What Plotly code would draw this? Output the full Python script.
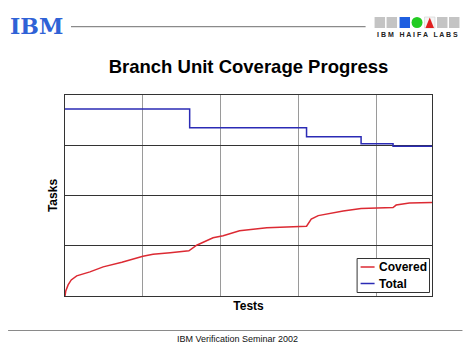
import plotly.graph_objects as go

# ---- data ----
tests_covered = [0, 1, 4, 8, 15, 32, 49, 73, 100, 113, 135, 159, 169, 190, 203, 224, 259, 310, 316, 325, 357, 380, 421, 425, 442, 471]
covered = [0.0, 0.10, 0.22, 0.32, 0.40, 0.48, 0.58, 0.67, 0.79, 0.83, 0.86, 0.90, 1.01, 1.16, 1.20, 1.30, 1.36, 1.39, 1.53, 1.60, 1.69, 1.74, 1.76, 1.81, 1.85, 1.86]

tests_total = [0, 160, 310, 380, 421, 471]
total = [3.72, 3.35, 3.17, 3.03, 2.98, 2.98]

series_names = ["Covered", "Total"]
series_colors = ["#dc2a33", "#2b2bb5"]
title_text = "Branch Unit Coverage Progress"
x_title = "Tests"
y_title = "Tasks"
footer_text = "IBM Verification Seminar 2002"
lab_text = "I B M   H A I F A   L A B S"

W, H = 474, 355
L, R, T, B = 65, 432.5, 95, 296


def px(x):
    return (x - L) / (R - L)


def py(y):
    return (B - y) / (B - T)


FONT = "Liberation Sans, Arial, sans-serif"

fig = go.Figure()
fig.add_trace(go.Scatter(x=tests_covered, y=covered, mode="lines", name=series_names[0],
                         line=dict(color=series_colors[0], width=1.5)))
fig.add_trace(go.Scatter(x=tests_total, y=total, mode="lines", name=series_names[1],
                         line=dict(color=series_colors[1], width=1.5, shape="hv")))

shapes = []
annotations = []

# header rule and footer rule
shapes.append(dict(type="line", xref="paper", yref="paper", x0=px(71), x1=px(366), y0=py(26.7), y1=py(26.7),
                   line=dict(color="#8a8a8a", width=1.2)))
shapes.append(dict(type="line", xref="paper", yref="paper", x0=px(8), x1=px(463), y0=py(330.5), y1=py(330.5),
                   line=dict(color="#8a8a8a", width=1.2)))

# IBM logo: text with white stripes
annotations.append(dict(text="<b>IBM</b>", xref="paper", yref="paper", x=px(36.5), y=py(25.5), xanchor="center",
                        yanchor="middle", showarrow=False,
                        font=dict(family="DejaVu Serif, serif", size=22, color="#2f62d6")))
for i in range(1, 8):
    yy = 16.3 + i * 18.4 / 8
    shapes.append(dict(type="line", xref="paper", yref="paper", x0=px(8), x1=px(66), y0=py(yy), y1=py(yy),
                       line=dict(color="white", width=1.2)))

# IBM Haifa Labs squares
sq = [("#c4c4c4", "sq"), ("#c4c4c4", "sq"), ("#1f5fe0", "sq"), ("#22cc22", "circle"),
      ("#e02020", "tri"), ("#c4c4c4", "sq"), ("#c4c4c4", "sq")]
x0s = [375, 387, 400, 412, 425, 437.5, 449.5]
for (col, kind), xs in zip(sq, x0s):
    y0, y1 = 17, 28
    if kind == "sq":
        shapes.append(dict(type="rect", xref="paper", yref="paper", x0=px(xs), x1=px(xs + 10.5),
                           y0=py(y1), y1=py(y0), fillcolor=col, line=dict(width=0)))
    elif kind == "circle":
        shapes.append(dict(type="circle", xref="paper", yref="paper", x0=px(xs), x1=px(xs + 11),
                           y0=py(y1), y1=py(y0), fillcolor=col, line=dict(width=0)))
    else:
        shapes.append(dict(type="rect", xref="paper", yref="paper", x0=px(xs), x1=px(xs + 10.5),
                           y0=py(y1), y1=py(y0), fillcolor="#f4f4f4", line=dict(color="#d0d0d0", width=0.6)))
        path = "M {} {} L {} {} L {} {} Z".format(px(xs + 1), py(y1), px(xs + 9.5), py(y1), px(xs + 5.25), py(y0 + 0.5))
        shapes.append(dict(type="path", xref="paper", yref="paper", path=path, fillcolor=col, line=dict(width=0)))

annotations.append(dict(text="<b>" + lab_text + "</b>", xref="paper", yref="paper", x=px(418), y=py(34.3),
                        xanchor="center", yanchor="middle", showarrow=False,
                        font=dict(family=FONT, size=7, color="#222222")))

# footer
annotations.append(dict(text=footer_text, xref="paper", yref="paper", x=px(237.5), y=py(339), xanchor="center",
                        yanchor="middle", showarrow=False, font=dict(family=FONT, size=9, color="#111111")))

# legend box (drawn to match the compact legend of the reference)
shapes.append(dict(type="rect", xref="paper", yref="paper", x0=px(357.5), x1=px(430), y0=py(292.5), y1=py(258.5),
                   fillcolor="white", line=dict(color="#333333", width=1), layer="above"))
for i, (name, col) in enumerate(zip(series_names, series_colors)):
    yy = 267 + i * 16.5
    shapes.append(dict(type="line", xref="paper", yref="paper", x0=px(361), x1=px(375), y0=py(yy), y1=py(yy),
                       line=dict(color=col, width=1.5), layer="above"))
    annotations.append(dict(text="<b>" + name + "</b>", xref="paper", yref="paper", x=px(377), y=py(yy),
                            xanchor="left", yanchor="middle", showarrow=False,
                            font=dict(family=FONT, size=12, color="#000000")))

fig.update_layout(
    width=W, height=H,
    margin=dict(l=L, r=W - R, t=T, b=H - B, pad=0),
    paper_bgcolor="white", plot_bgcolor="white",
    title=dict(text="<b>" + title_text + "</b>", x=0.5, xanchor="center", xref="paper",
               y=1 - 66.5 / H, yanchor="middle", yref="container",
               font=dict(family=FONT, size=18.5, color="#000000")),
    showlegend=False,
    shapes=shapes, annotations=annotations,
)
fig.update_xaxes(range=[0, 471], tick0=0, dtick=100, showticklabels=False, ticks="",
                 showgrid=True, gridcolor="#9a9a9a", gridwidth=1, zeroline=False,
                 showline=True, mirror=True, linecolor="#333333", linewidth=1,
                 title=dict(text="<b>" + x_title + "</b>", standoff=5,
                            font=dict(family=FONT, size=12, color="#000000")))
fig.update_yaxes(range=[0, 4], tick0=0, dtick=1, showticklabels=False, ticks="",
                 showgrid=True, gridcolor="#333333", gridwidth=1, zeroline=False,
                 showline=True, mirror=True, linecolor="#333333", linewidth=1,
                 title=dict(text="<b>" + y_title + "</b>", standoff=3,
                            font=dict(family=FONT, size=12, color="#000000")))

fig.write_html("out.html", config={"displayModeBar": False},
               post_script="document.body.style.margin='0';document.body.style.padding='0';")
